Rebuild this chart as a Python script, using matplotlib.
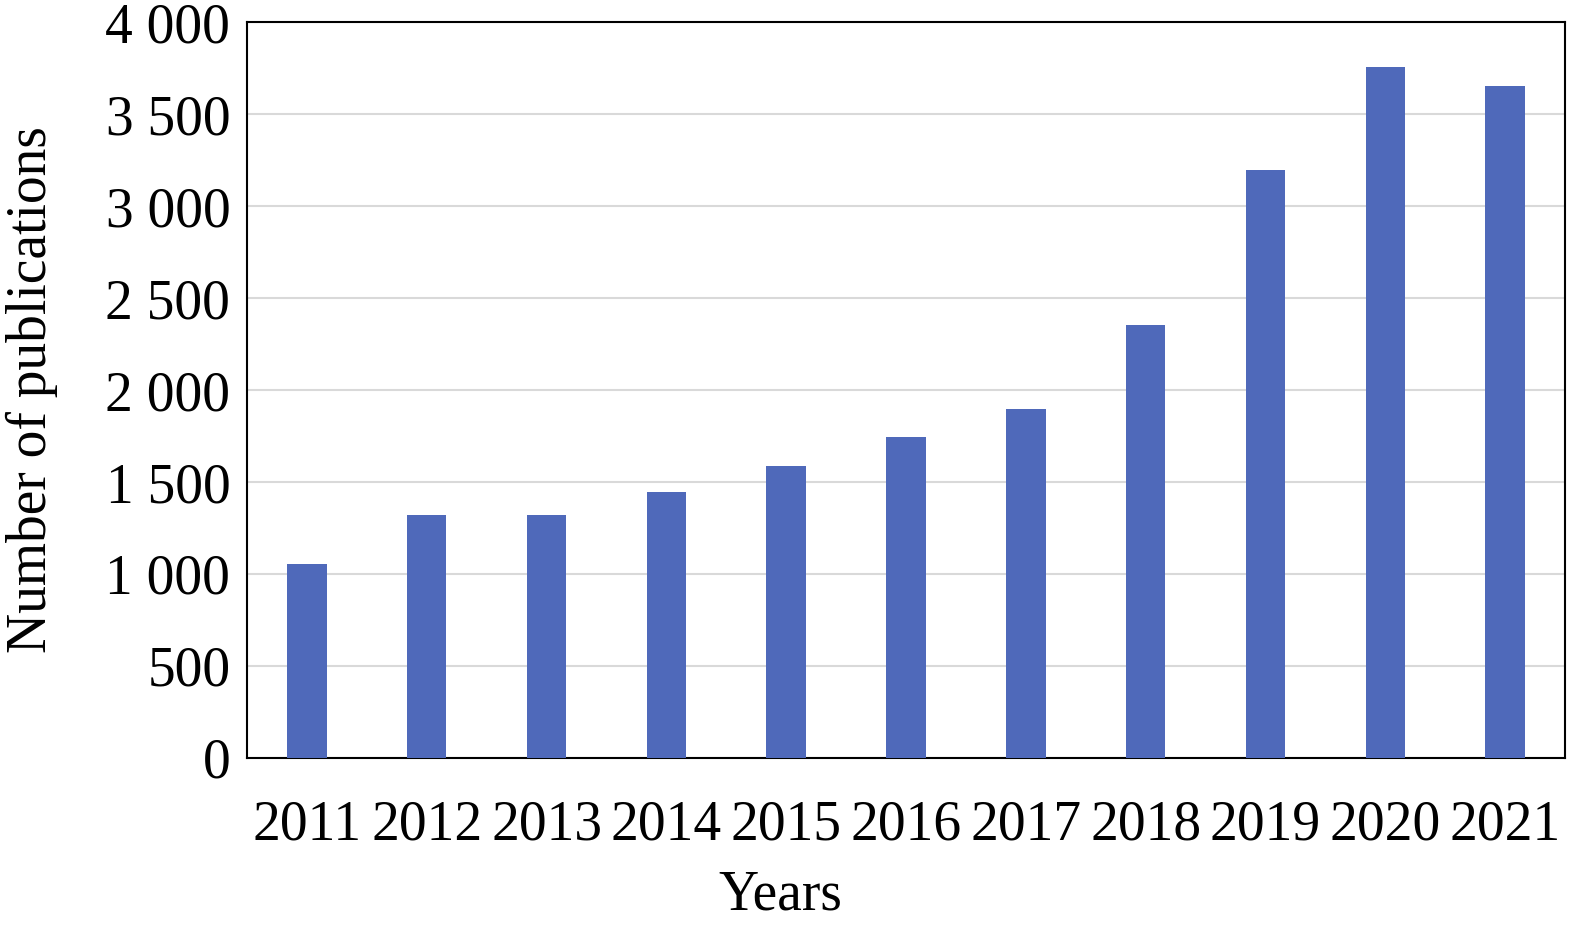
import matplotlib
matplotlib.use("Agg")
import matplotlib.pyplot as plt

years = ["2011","2012","2013","2014","2015","2016","2017","2018","2019","2020","2021"]
counts = [1056, 1322, 1322, 1448, 1589, 1747, 1899, 2351, 3195, 3755, 3652]
yticks = [0, 500, 1000, 1500, 2000, 2500, 3000, 3500, 4000]
ylabels = ["0", "500", "1 000", "1 500", "2 000", "2 500", "3 000", "3 500", "4 000"]

plt.rcParams['font.family'] = ['Liberation Serif', 'DejaVu Serif']
fig = plt.figure(figsize=(15.75, 9.34), dpi=100)
ax = fig.add_axes([247/1575, 1-758/934, (1565-247)/1575, (758-22)/934])
x = range(len(years))
ax.bar(x, counts, width=0.33, color="#4F69BA", zorder=3)
ax.set_xlim(-0.5, len(years)-0.5)
ax.set_ylim(0, 4000)
ax.set_yticks(yticks)
ax.set_yticklabels(ylabels, fontsize=40)
ax.set_xticks(list(x))
ax.set_xticklabels(years, fontsize=40)
ax.tick_params(axis='y', length=0, pad=12)
ax.tick_params(axis='x', length=0, pad=30)
ax.yaxis.grid(True, color="#d9d9d9", linewidth=1.5, zorder=0)
for s in ax.spines.values():
    s.set_linewidth(1.5)
    s.set_color("black")
fig.text(780/1575, 1-895/934, "Years", fontsize=40, ha='center', va='center')
fig.text(32/1575, 1-390/934, "Number of publications", fontsize=40, ha='center', va='center', rotation=90)
fig.savefig("out.png", dpi=100)
